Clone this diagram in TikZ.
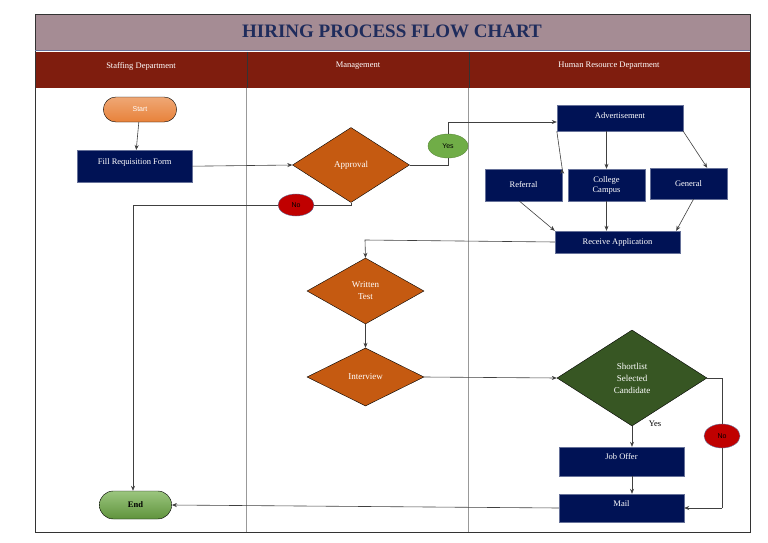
\documentclass[tikz,border=0pt]{standalone}
\usepackage{fontspec}
\setmainfont{Liberation Serif}
\newfontfamily\sansf{Liberation Sans}
\usetikzlibrary{shapes.geometric,arrows.meta}
\definecolor{navy}{HTML}{001255}
\definecolor{tnavy}{HTML}{1F2C5C}
\definecolor{mauve}{HTML}{A58C94}
\definecolor{hred}{HTML}{7F1D0E}
\definecolor{dorange}{HTML}{C55A11}
\definecolor{dgreen}{HTML}{375623}
\definecolor{lgreen}{HTML}{70AD47}
\definecolor{sorange}{HTML}{E8823A}
\definecolor{rred}{HTML}{C00000}
\tikzset{
 box/.style={draw=navy!60!white, fill=navy, text=white, minimum width=#1, inner sep=1pt, font=\fontsize{8.5}{10}\selectfont, align=center},
 dia/.style={diamond, draw=black, fill=dorange, text=white, font=\fontsize{9}{12}\selectfont, align=center, aspect=1.6, inner sep=0pt},
 term/.style={rounded rectangle, draw=black, minimum width=80pt, minimum height=26pt},
 bub/.style={ellipse, draw=navy!60, minimum width=#1, minimum height=23pt, inner sep=0pt, font=\sansf\fontsize{7}{8}\selectfont},
 conn/.style={draw=black!75, line width=0.6pt, -{Stealth[length=5pt,width=4pt]}},
 plain/.style={draw=black!75, line width=0.6pt},
}
\usetikzlibrary{shapes.misc}
\begin{document}
\begin{tikzpicture}[x=1pt,y=-1pt]
\useasboundingbox (0,0) rectangle (768,543);
\fill[white] (0,0) rectangle (768,543);
% frame, title, headers
\fill[mauve] (35,14) rectangle (750,50);
\node[font=\bfseries\fontsize{19}{22}\selectfont, text=tnavy] (title) at (392,31) {HIRING PROCESS FLOW CHART};
\fill[hred] (35,52) rectangle (750,88);
\node[text=white, font=\fontsize{8.5}{10}\selectfont] (h1) at (141,66) {Staffing Department};
\node[text=white, font=\fontsize{8.5}{10}\selectfont] (h2) at (358,66) {Management};
\node[text=white, font=\fontsize{8.5}{10}\selectfont] (h3) at (609,66) {Human Resource Department};
\draw[black!80, line width=1pt] (247,52) -- (247,88) (469,52) -- (469,88);
\draw[black!40, line width=0.6pt] (246,88) -- (246,532) (468,88) -- (468,532);
\draw[black!80, line width=0.7pt] (35,14) rectangle (750,532);
\draw[navy!60, line width=0.5pt] (35,50) -- (750,50);
% nodes
\node[term, top color=sorange!70, bottom color=sorange, text=white, minimum width=80pt, minimum height=25pt, font=\sansf\fontsize{7}{8}\selectfont] (start) at (140,109.5) {Start};
\node[box=115pt, minimum height=32pt, anchor=north west, text height=9pt, text depth=13pt] (fill) at (77,150) {Fill Requisition Form};
\node[dia, minimum width=117pt, minimum height=75pt] (appr) at (351,165) {Approval};
\node[bub=40pt, fill=lgreen, text=black, draw=lgreen!80!black, minimum height=24pt] (yes) at (448,146) {Yes};
\node[box=126pt, minimum height=26pt, text height=9pt, text depth=9pt] (adv) at (620,118) {Advertisement};
\node[box=77pt, minimum height=32pt] (ref) at (523.5,185) {Referral};
\node[box=77pt, minimum height=32pt] (col) at (606.5,185) {College\\Campus};
\node[box=77pt, minimum height=31pt] (gen) at (688.5,183.5) {General};
\node[box=125pt, minimum height=22pt] (rec) at (617.5,242) {Receive Application};
\node[dia, minimum width=117pt, minimum height=66pt] (wt) at (365.5,291) {Written\\Test};
\node[dia, minimum width=117pt, minimum height=58pt] (int) at (365.5,377) {Interview};
\node[dia, fill=dgreen, minimum width=150pt, minimum height=96pt] (sl) at (632,378) {Shortlist\\Selected\\Candidate};
\node[font=\fontsize{8.5}{10}\selectfont] (yl) at (655,424) {Yes};
\node[box=125pt, minimum height=29pt, text height=9pt, text depth=13pt] (job) at (621.5,461.5) {Job Offer};
\node[box=125pt, minimum height=28pt, text height=9pt, text depth=13pt] (mail) at (621.5,508) {Mail};
\node[term, top color=lgreen!70, bottom color=lgreen!85!black, minimum width=79pt, minimum height=28pt, font=\fontsize{8.5}{10}\selectfont\bfseries] (end) at (135.5,505) {End};
\coordinate (a1) at (448,165);
\coordinate (a2) at (448,122);
\coordinate (n1) at (133,205);
\coordinate (r1) at (365,240);
\coordinate (s1) at (722,378);
\coordinate (s2) at (722,508);
% connectors
\draw[conn] (start) -- (fill);
\draw[conn] (fill.east) -- (appr.west);
\draw[plain] (appr.east) -- (a1) -- (yes);
\draw[conn] (yes) -- (a2) -- (adv.west |- a2);
\draw[conn] (appr.south) |- (n1) -- (end.north -| n1);
\node[bub=36pt, fill=rred, minimum height=22pt] (no1) at (296,205) {No};
\draw[conn] (adv.south west) -- (ref.north east) ++(0,0);
\draw[conn] (col.north |- adv.south) -- (col.north);
\draw[conn] (adv.south east) -- ([xshift=-20pt]gen.north east);
\draw[conn] ([xshift=-4pt]ref.south) -- (rec.north west);
\draw[conn] (col.south) -- (col.south |- rec.north);
\draw[conn] ([xshift=5pt]gen.south) -- ([xshift=-4pt]rec.north east);
\draw[conn] (rec.west) -- (r1) -- (wt.north);
\draw[conn] (wt.south) -- (int.north);
\draw[conn] (int.east) -- (sl.west);
\draw[conn] (sl.south) -- (sl.south |- job.north);
\draw[plain] (sl.east) -- (s1) -- (s2);
\draw[conn] (s2) -- (mail.east);
\node[bub=36pt, fill=rred, minimum height=24pt] (no2) at (722,436) {No};
\draw[conn] (job.south -| sl.south) -- (mail.north -| sl.south);
\draw[conn] (mail.west) -- (end.east);
\end{tikzpicture}
\end{document}
